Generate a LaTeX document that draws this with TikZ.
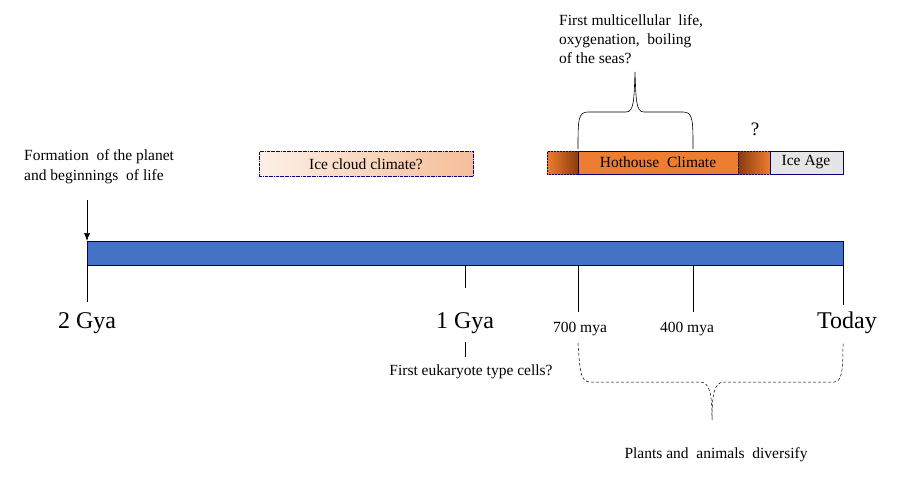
\documentclass[tikz,border=0pt]{standalone}
\usepackage{fontspec}
\setmainfont{Liberation Serif}
\usetikzlibrary{arrows.meta}
\begin{document}
\begin{tikzpicture}[x=1pt,y=-1pt,
  txt/.style={font=\fontsize{15.5}{18}\selectfont, inner sep=0pt},
  big/.style={font=\fontsize{24}{26}\selectfont, inner sep=0pt},
  tick/.style={draw=black, line width=0.6pt},
  box/.style={draw=blue!50!black, line width=0.6pt}]
\useasboundingbox (0,0) rectangle (901,479);
\definecolor{bar}{HTML}{4472C4}
\definecolor{hot}{HTML}{ED7D31}
\definecolor{brn}{HTML}{8A3D0E}
% timeline
\node[draw=blue!40!black, fill=bar, minimum width=756pt, minimum height=24pt, inner sep=0pt, anchor=north west] (bar) at (87,241) {};
\coordinate (t0) at (87,265); \coordinate (t1) at (465,265); \coordinate (t2) at (578,265); \coordinate (t3) at (693,265); \coordinate (t4) at (843,265);
\coordinate (b0) at (87,302); \coordinate (b1) at (465,288); \coordinate (b2) at (578,312); \coordinate (b3) at (693,312); \coordinate (b4) at (843,305);
\draw[tick] (t0)--(b0); \draw[tick] (t1)--(b1); \draw[tick] (t2)--(b2); \draw[tick] (t3)--(b3); \draw[tick] (t4)--(b4);
\node[big] (l0) at (87,323) {2 Gya};
\node[big] (l1) at (465,323) {1 Gya};
\node[txt] (l2) at (580,329) {700 mya};
\node[txt] (l3) at (687,329) {400 mya};
\node[big] (l4) at (847,323) {Today};
\coordinate (e1) at (465,342); \coordinate (e2) at (465,357);
\draw[tick] (e1)--(e2);
\node[txt] (euk) at (471,372) {First eukaryote type cells?};
% formation
\node[txt, align=left, anchor=west] (form) at (24,167) {Formation\ \ of the planet\\[2pt]and beginnings\ \ of life};
\coordinate (a0) at (87,200);
\draw[-{Latex[length=8pt,width=6pt]}, line width=0.6pt] (a0) -- (bar.north west);
% ice cloud
\node[draw=blue!60!black, densely dashdotted, line width=0.6pt, left color=hot!12, right color=hot!50, minimum width=214pt, minimum height=25pt, anchor=north west, inner sep=0pt] (ice) at (259,151) {};
\node[txt] (icet) at (366,164) {Ice cloud climate?};
% climate bar
\node[draw=blue!50!black, densely dotted, line width=0.5pt, left color=hot, right color=brn, minimum width=31pt, minimum height=23pt, anchor=north west, inner sep=0pt] (g1) at (547,151) {};
\node[box, fill=hot, minimum width=160pt, minimum height=23pt, anchor=north west, inner sep=0pt] (hot) at (578,151) {};
\node[txt] (hott) at (658,162) {Hothouse\ \ Climate};
\node[draw=blue!50!black, densely dotted, line width=0.5pt, left color=brn, right color=hot, minimum width=32pt, minimum height=23pt, anchor=north west, inner sep=0pt] (g2) at (738,151) {};
\node[box, fill=black!10, minimum width=73pt, minimum height=23pt, anchor=north west, inner sep=0pt] (iceage) at (770,151) {};
\node[txt] (iat) at (806,162) {Ice Age};
\node[font=\fontsize{19}{21}\selectfont, inner sep=0pt] (q) at (755,129) {?};
% top brace
\draw[line width=0.6pt] (578,149) .. controls (578,120) and (578,112) .. (588,112) -- (626,112) .. controls (634,112) and (634,100) .. (635,72)
  .. controls (636,100) and (636,112) .. (644,112) -- (683,112) .. controls (693,112) and (693,120) .. (693,149);
\node[txt, align=left, anchor=north west] (mc) at (559,14) {First multicellular\ \ life,\\[1pt]oxygenation,\ \ boiling\\[1pt]of the seas?};
% bottom brace
\draw[densely dashed, line width=0.5pt] (578,343) .. controls (580,370) and (580,382) .. (590,382) -- (700,382) .. controls (710,382) and (712,395) .. (712,420)
  .. controls (712,395) and (714,382) .. (724,382) -- (834,382) .. controls (842,382) and (843,370) .. (843,343);
\node[txt] (pl) at (716,455) {Plants and\ \ animals\ \ diversify};
\end{tikzpicture}
\end{document}
